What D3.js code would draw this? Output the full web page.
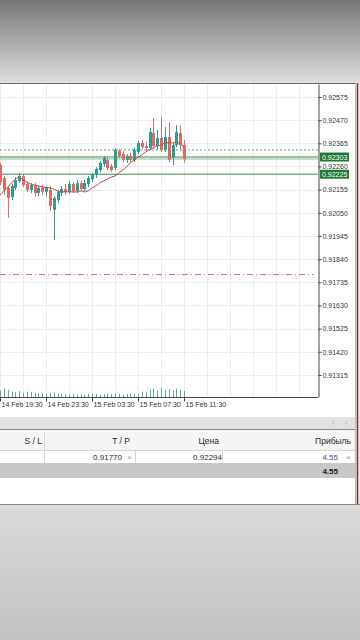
<!DOCTYPE html>
<html>
<head>
<meta charset="utf-8">
<script src="https://cdn.jsdelivr.net/npm/d3@7"></script>
<style>
  body { margin: 0; background: #d4d4d4; }
  svg { display: block; font-family: "Liberation Sans", Arial, sans-serif; }
</style>
</head>
<body>
<div id="chart"></div>
<script>
// ---- data ----
var opens  = [0.92267,0.92208,0.92163,0.92122,0.92163,0.92194,0.92217,0.92181,0.92154,0.92176,
              0.92140,0.92163,0.92145,0.92154,0.92063,0.92108,0.92140,0.92158,0.92145,0.92181,
              0.92149,0.92185,0.92158,0.92181,0.92203,0.92222,0.92244,0.92271,0.92290,0.92262,
              0.92253,0.92330,0.92317,0.92290,0.92308,0.92290,0.92326,0.92367,0.92353,0.92344,
              0.92412,0.92353,0.92389,0.92335,0.92394,0.92299,0.92357,0.92412,0.92357];
var highs  = [0.92276,0.92217,0.92172,0.92181,0.92212,0.92231,0.92226,0.92190,0.92185,0.92185,
              0.92172,0.92176,0.92172,0.92172,0.92126,0.92154,0.92172,0.92181,0.92194,0.92190,
              0.92199,0.92194,0.92199,0.92217,0.92231,0.92258,0.92285,0.92308,0.92303,0.92271,
              0.92344,0.92339,0.92330,0.92317,0.92321,0.92344,0.92376,0.92380,0.92371,0.92435,
              0.92480,0.92425,0.92484,0.92439,0.92462,0.92367,0.92448,0.92448,0.92380];
var lows   = [0.92176,0.92131,0.92027,0.92108,0.92154,0.92185,0.92167,0.92145,0.92140,0.92122,
              0.92126,0.92131,0.92126,0.92058,0.91927,0.92095,0.92126,0.92131,0.92135,0.92140,
              0.92140,0.92149,0.92149,0.92167,0.92190,0.92208,0.92235,0.92258,0.92244,0.92235,
              0.92244,0.92299,0.92280,0.92276,0.92280,0.92280,0.92317,0.92339,0.92330,0.92335,
              0.92344,0.92335,0.92326,0.92326,0.92280,0.92267,0.92348,0.92335,0.92276];
var closes = [0.92190,0.92154,0.92117,0.92172,0.92199,0.92217,0.92176,0.92154,0.92176,0.92140,
              0.92163,0.92145,0.92163,0.92081,0.92117,0.92145,0.92158,0.92145,0.92181,0.92149,
              0.92185,0.92158,0.92185,0.92208,0.92226,0.92249,0.92276,0.92299,0.92253,0.92244,
              0.92335,0.92308,0.92290,0.92308,0.92290,0.92335,0.92367,0.92348,0.92344,0.92416,
              0.92353,0.92389,0.92335,0.92394,0.92290,0.92357,0.92416,0.92357,0.92294];
var maLine = [0.92131,0.92149,0.92167,0.92185,0.92203,0.92212,0.92199,0.92190,0.92181,0.92176,
              0.92172,0.92167,0.92165,0.92163,0.92158,0.92149,0.92145,0.92145,0.92145,0.92145,
              0.92145,0.92149,0.92145,0.92149,0.92163,0.92172,0.92185,0.92194,0.92203,0.92212,
              0.92217,0.92231,0.92244,0.92258,0.92276,0.92290,0.92303,0.92312,0.92326,0.92335,
              0.92344,0.92353,0.92357,0.92367,0.92367,0.92367,0.92371,0.92362,0.92348];
var volumes = [55,70,60,45,40,50,35,45,40,35,30,35,25,30,40,30,25,25,20,25,
               20,25,20,25,30,25,20,25,30,25,30,25,20,25,30,25,30,45,40,60,
               70,55,75,60,65,55,70,60,50];

var priceTicks = [0.92575,0.92470,0.92365,0.92260,0.92155,0.92050,0.91945,0.91840,
                  0.91735,0.91630,0.91525,0.91420,0.91315];
var timeTicks = ["14 Feb 19:30","14 Feb 23:30","15 Feb 03:30","15 Feb 07:30","15 Feb 11:30"];

var askPrice = 0.92335;      // dashed line
var openPrice = 0.92303;     // green line + tag
var bidPrice = 0.92294;      // current price
var otherLevel = 0.92225;    // second green line + tag
var takeProfit = 0.91770;    // dash-dot red line

var tableHead = ["S / L", "T / P", "Цена", "Прибыль"];
var tableRow = ["", "0.91770", "0.92294", "4.55"];
var totalProfit = "4.55";

// ---- layout ----
var svgWidth = 360, svgHeight = 640;
var plot = { left: 0, right: 318, top: 84, bottom: 397 };

var svg = d3.select("#chart").append("svg")
  .attr("width", svgWidth)
  .attr("height", svgHeight);

var defs = svg.append("defs");
var topGrad = defs.append("linearGradient").attr("id", "topGrad")
  .attr("x1", 0).attr("y1", 0).attr("x2", 0).attr("y2", 1);
topGrad.append("stop").attr("offset", "0%").attr("stop-color", "#777777");
topGrad.append("stop").attr("offset", "100%").attr("stop-color", "#dedede");
var botGrad = defs.append("linearGradient").attr("id", "botGrad")
  .attr("x1", 0).attr("y1", 0).attr("x2", 0).attr("y2", 1);
botGrad.append("stop").attr("offset", "0%").attr("stop-color", "#dadada");
botGrad.append("stop").attr("offset", "100%").attr("stop-color", "#c2c2c2");
defs.append("clipPath").attr("id", "plotClip")
  .append("rect").attr("x", plot.left).attr("y", plot.top)
  .attr("width", plot.right - plot.left).attr("height", plot.bottom - plot.top);

// backgrounds
svg.append("rect").attr("x", 0).attr("y", 0).attr("width", svgWidth).attr("height", 83)
  .attr("fill", "url(#topGrad)");
svg.append("rect").attr("x", 0).attr("y", 83).attr("width", 356).attr("height", 422)
  .attr("fill", "#ffffff");
svg.append("rect").attr("x", 356).attr("y", 83).attr("width", 4).attr("height", 422)
  .attr("fill", "#e8e8e8");
svg.append("rect").attr("x", 0).attr("y", 505).attr("width", svgWidth).attr("height", 135)
  .attr("fill", "url(#botGrad)");

// ---- scales ----
var parseTick = d3.timeParse("%d %b %H:%M");
var tickDates = timeTicks.map(parseTick);
var t0 = tickDates[0];
var candleTimes = closes.map(function (d, i) { return d3.timeMinute.offset(t0, 20 * i); });

var xScale = d3.scaleTime()
  .domain([t0, tickDates[tickDates.length - 1]])
  .range([0, 184]);

var yScale = d3.scaleLinear()
  .domain([0.91215, 0.92634])
  .range([plot.bottom, plot.top]);

var volScale = d3.scaleLinear().domain([0, 100]).range([plot.bottom, plot.bottom - 12]);

// ---- grid ----
var grid = svg.append("g").attr("clip-path", "url(#plotClip)");
grid.selectAll(".hg").data(priceTicks).enter().append("line")
  .attr("x1", plot.left).attr("x2", plot.right)
  .attr("y1", d => Math.round(yScale(d)) + 0.5).attr("y2", d => Math.round(yScale(d)) + 0.5)
  .attr("stroke", "#e9eef0");
var gridTimes = d3.range(0, 14).map(function (k) { return d3.timeHour.offset(t0, 2 * k); });
grid.selectAll(".vg").data(gridTimes).enter().append("line")
  .attr("x1", d => Math.round(xScale(d)) + 0.5).attr("x2", d => Math.round(xScale(d)) + 0.5)
  .attr("y1", plot.top).attr("y2", plot.bottom)
  .attr("stroke", "#e9eef0");

// ---- level lines ----
var levels = svg.append("g").attr("clip-path", "url(#plotClip)");
levels.append("line")
  .attr("x1", plot.left).attr("x2", plot.right)
  .attr("y1", yScale(askPrice)).attr("y2", yScale(askPrice))
  .attr("stroke", "#5f9e9a").attr("stroke-dasharray", "2,2");
levels.append("line")
  .attr("x1", plot.left).attr("x2", plot.right)
  .attr("y1", yScale(openPrice)).attr("y2", yScale(openPrice))
  .attr("stroke", "#3c8a46");
levels.append("line")
  .attr("x1", plot.left).attr("x2", plot.right)
  .attr("y1", yScale(bidPrice)).attr("y2", yScale(bidPrice))
  .attr("stroke", "#8fb79a");
levels.append("line")
  .attr("x1", plot.left).attr("x2", plot.right)
  .attr("y1", yScale(otherLevel)).attr("y2", yScale(otherLevel))
  .attr("stroke", "#3c8a46");
levels.append("line")
  .attr("x1", plot.left).attr("x2", plot.right - 4)
  .attr("y1", yScale(takeProfit)).attr("y2", yScale(takeProfit))
  .attr("stroke", "#d96a5e").attr("stroke-dasharray", "6,3,1,3");

// ---- volumes ----
var plotG = svg.append("g").attr("clip-path", "url(#plotClip)");
plotG.selectAll(".vol").data(volumes).enter().append("line")
  .attr("x1", (d, i) => Math.round(xScale(candleTimes[i])) + 0.5)
  .attr("x2", (d, i) => Math.round(xScale(candleTimes[i])) + 0.5)
  .attr("y1", plot.bottom).attr("y2", d => volScale(d))
  .attr("stroke", "#5fa9a3");

// ---- candles ----
var upColor = "#2f9d92", downColor = "#e06a62";
var candles = plotG.selectAll(".candle").data(closes).enter().append("g");
candles.append("line")
  .attr("x1", (d, i) => Math.round(xScale(candleTimes[i])) + 0.5)
  .attr("x2", (d, i) => Math.round(xScale(candleTimes[i])) + 0.5)
  .attr("y1", (d, i) => yScale(highs[i]))
  .attr("y2", (d, i) => yScale(lows[i]))
  .attr("stroke", (d, i) => closes[i] >= opens[i] ? upColor : downColor);
candles.append("rect")
  .attr("x", (d, i) => Math.round(xScale(candleTimes[i])) - 1)
  .attr("width", 3)
  .attr("y", (d, i) => yScale(Math.max(opens[i], closes[i])))
  .attr("height", (d, i) => Math.max(1, Math.abs(yScale(opens[i]) - yScale(closes[i]))))
  .attr("fill", (d, i) => closes[i] >= opens[i] ? upColor : downColor);

// moving average
var maPath = d3.line()
  .x((d, i) => xScale(candleTimes[i]))
  .y(d => yScale(d))
  .curve(d3.curveMonotoneX);
plotG.append("path").datum(maLine)
  .attr("d", maPath)
  .attr("fill", "none")
  .attr("stroke", "#b5473f")
  .attr("stroke-width", 1);

// ---- frame ----
svg.append("line").attr("x1", 0).attr("x2", 355).attr("y1", 83.5).attr("y2", 83.5)
  .attr("stroke", "#666");
svg.append("line").attr("x1", plot.left).attr("x2", plot.right).attr("y1", plot.bottom + 0.5).attr("y2", plot.bottom + 0.5)
  .attr("stroke", "#444");

// price axis
var yAxis = d3.axisRight(yScale)
  .tickValues(priceTicks)
  .tickSize(3)
  .tickSizeOuter(0)
  .tickPadding(1)
  .tickFormat(d3.format(".5f"));
var yAxisG = svg.append("g")
  .attr("transform", "translate(" + (plot.right + 0.5) + ",0)")
  .call(yAxis);
yAxisG.select(".domain").attr("stroke", "#444");
yAxisG.selectAll(".tick line").attr("stroke", "#444");
yAxisG.selectAll("text").attr("fill", "#333").style("font-size", "7px")
  .style("font-family", "'Liberation Sans', Arial, sans-serif");

// tags on the price axis
var tags = [openPrice, otherLevel];
var tagG = svg.selectAll(".tag").data(tags).enter().append("g")
  .attr("transform", d => "translate(" + (plot.right + 1) + "," + yScale(d) + ")");
tagG.append("rect").attr("x", 1).attr("y", -4.5).attr("width", 29).attr("height", 9)
  .attr("fill", "#1f7a36");
tagG.append("text").attr("x", 3).attr("y", 2.6)
  .attr("fill", "#ffffff").style("font-size", "7px")
  .text(d => d3.format(".5f")(d));

// time axis
var xAxis = d3.axisBottom(xScale)
  .tickValues(tickDates)
  .tickSize(4)
  .tickSizeOuter(0)
  .tickFormat((d, i) => timeTicks[i]);
var xAxisG = svg.append("g")
  .attr("transform", "translate(0," + (plot.bottom + 0.5) + ")")
  .call(xAxis);
xAxisG.select(".domain").remove();
xAxisG.selectAll(".tick line").attr("stroke", "#444");
xAxisG.selectAll("text")
  .attr("text-anchor", "start")
  .attr("x", 1)
  .attr("y", 5)
  .attr("fill", "#333")
  .style("font-size", "7px")
  .style("font-family", "'Liberation Sans', Arial, sans-serif");

// right side borders
svg.append("line").attr("x1", 355.5).attr("x2", 355.5).attr("y1", 83).attr("y2", 505)
  .attr("stroke", "#bbb");
svg.append("line").attr("x1", 357.5).attr("x2", 357.5).attr("y1", 83).attr("y2", 505)
  .attr("stroke", "#8e2a2a").attr("stroke-width", 1.5);

// ---- trade table ----
var table = svg.append("g");
table.append("rect").attr("x", 0).attr("y", 417).attr("width", 355).attr("height", 12)
  .attr("fill", "#e2e2e2");
table.selectAll(".arrow").data(["‹", "›"]).enter().append("text")
  .attr("x", (d, i) => 332 + i * 13).attr("y", 426)
  .attr("fill", "#aaa").style("font-size", "7px").text(d => d);
table.append("line").attr("x1", 0).attr("x2", 355).attr("y1", 429.5).attr("y2", 429.5)
  .attr("stroke", "#8a8a8a");
table.append("rect").attr("x", 0).attr("y", 430).attr("width", 355).attr("height", 20)
  .attr("fill", "#f5f5f5");
table.append("line").attr("x1", 0).attr("x2", 355).attr("y1", 450.5).attr("y2", 450.5)
  .attr("stroke", "#d6d6d6");

var headEnds = [42, 130, 219, 351];
table.selectAll(".head").data(tableHead).enter().append("text")
  .attr("x", (d, i) => headEnds[i]).attr("y", 444)
  .attr("text-anchor", "end")
  .attr("fill", "#2a2a2a")
  .style("font-size", "8.5px")
  .text(d => d);

// cell borders
[44.5, 135.5, 222.5].forEach(function (x, k) {
  table.append("line").attr("x1", x).attr("x2", x)
    .attr("y1", k === 0 ? 432 : 451).attr("y2", 463)
    .attr("stroke", "#d8d8d8");
});

var cellEnds = [42, 122, 222, 338];
table.selectAll(".cell").data(tableRow).enter().append("text")
  .attr("x", (d, i) => cellEnds[i]).attr("y", 460)
  .attr("text-anchor", "end")
  .attr("fill", (d, i) => i === 3 ? "#3a4aa0" : "#2a2a2a")
  .style("font-size", "8px")
  .text(d => d);
[127, 346].forEach(function (x) {
  table.append("text").attr("x", x).attr("y", 460)
    .attr("fill", "#999").style("font-size", "8px").text("×");
});

table.append("rect").attr("x", 0).attr("y", 463).attr("width", 355).attr("height", 15)
  .attr("fill", "#c8c8c8");
table.append("text").attr("x", 338).attr("y", 474)
  .attr("text-anchor", "end").attr("fill", "#1a1a1a")
  .style("font-size", "8px").style("font-weight", "bold")
  .text(totalProfit);

table.append("line").attr("x1", 0).attr("x2", 360).attr("y1", 504.5).attr("y2", 504.5)
  .attr("stroke", "#8a8a8a");
</script>
</body>
</html>
